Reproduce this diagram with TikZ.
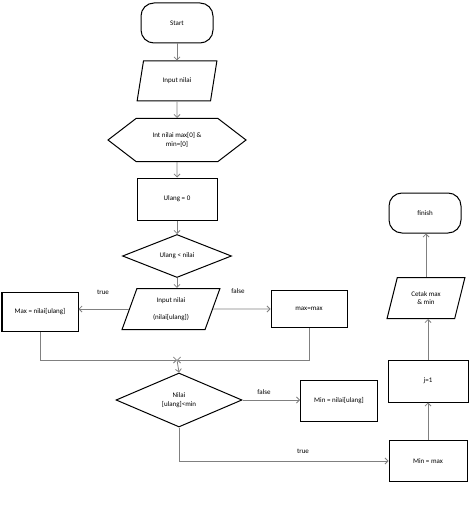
\documentclass[tikz,border=0pt]{standalone}
\usepackage{fontspec}
\setmainfont{Carlito}
\usetikzlibrary{shapes.geometric,shapes.symbols,arrows.meta}

\tikzset{
  box/.style={draw, line width=1pt, inner sep=1pt, align=center,
    font=\fontsize{7}{8.5}\selectfont},
  term/.style={box, rectangle, rounded corners=13pt},
  io/.style={box, trapezium, trapezium stretches=true,
    trapezium left angle=70, trapezium right angle=110},
  prep/.style={box, signal, signal to=west and east, signal pointer angle=75},
  proc/.style={box, rectangle},
  decision/.style={box, diamond, aspect=2.5, inner sep=0pt},
  arr/.style={draw=gray, line width=0.8pt, -{Straight Barb[length=3pt,width=6pt]}},
  lbl/.style={font=\fontsize{7}{8.5}\selectfont, inner sep=1pt}
}

\begin{document}
\begin{tikzpicture}[x=1pt, y=-1pt]
    \useasboundingbox[fill=white] (0,0) rectangle (474,513);

    % main column
    \node[term, minimum width=72pt, minimum height=40pt] (start) at (177,23) {Start};
    \node[io, minimum width=80pt, minimum height=40pt] (inp) at (177,81) {Input nilai};
    \node[prep, minimum width=138pt, minimum height=43pt] (init) at (177,140) {Int nilai max[0] \&\\ min=[0]};
    \node[proc, minimum width=80pt, minimum height=42pt] (ulang) at (177,199) {Ulang = 0};
    \node[decision, minimum width=109pt, minimum height=43pt] (cek) at (177,256) {Ulang \textless{} nilai};
    \node[io, minimum width=98pt, minimum height=41pt, trapezium left angle=72, trapezium right angle=108] (baca) at (171,309) {Input nilai\\[9pt]{}(nilai[ulang])};

    % branches
    \node[proc, minimum width=76pt, minimum height=39pt] (maks) at (40,312) {Max = nilai[ulang]};
    \node[proc, minimum width=76pt, minimum height=37pt] (maxx) at (309,309) {max=max};
    \coordinate (merge) at (177,360);

    \node[decision, minimum width=126pt, minimum height=54pt] (cekmin) at (179,400) {Nilai\\{}[ulang]\textless min};
    \node[proc, minimum width=77pt, minimum height=41pt] (minn) at (339,401) {Min = nilai[ulang]};

    % right column
    \node[proc, minimum width=78pt, minimum height=41pt] (minmax) at (428,461) {Min = max};
    \node[proc, minimum width=80pt, minimum height=42pt] (jsatu) at (428,381) {j=1};
    \node[io, minimum width=78pt, minimum height=41pt] (cetak) at (426,298) {Cetak max\\ \& min};
    \node[term, minimum width=72pt, minimum height=40pt] (finish) at (425,213) {finish};

    % thick left side of the Max box
    \draw[line width=2pt] (maks.north west) -- (maks.south west);

    % top to bottom
    \draw[arr] (start) -- (inp);
    \draw[arr] (inp) -- (init);
    \draw[arr] (init) -- (ulang);
    \draw[arr] (ulang) -- (cek);
    \draw[arr] (cek.south) -- (cek.south |- baca.north);

    % true / false of the input
    \draw[arr] (baca.west) -- (baca.west -| maks.east);
    \draw[arr] (baca.east) -- (maxx.west);
    \node[lbl] (ltrue) at (103,292) {true};
    \node[lbl] (lfalse) at (238,291) {false};

    % back together
    \draw[arr] (maks.south) |- (merge);
    \draw[arr] (maxx.south) |- (merge);
    \draw[arr] (merge) -- (cekmin.north);

    % second test
    \draw[arr] (cekmin.east) -- (cekmin.east -| minn.west);
    \draw[arr] (cekmin.south) |- (minmax.west);
    \node[lbl] (lfalse2) at (264,392) {false};
    \node[lbl] (ltrue2) at (303,451) {true};

    % up to the end
    \draw[arr] (minmax) -- (jsatu);
    \draw[arr] (jsatu.north) -- (jsatu.north |- cetak.south);
    \draw[arr] (cetak.north) -- (cetak.north |- finish.south);
\end{tikzpicture}
\end{document}
